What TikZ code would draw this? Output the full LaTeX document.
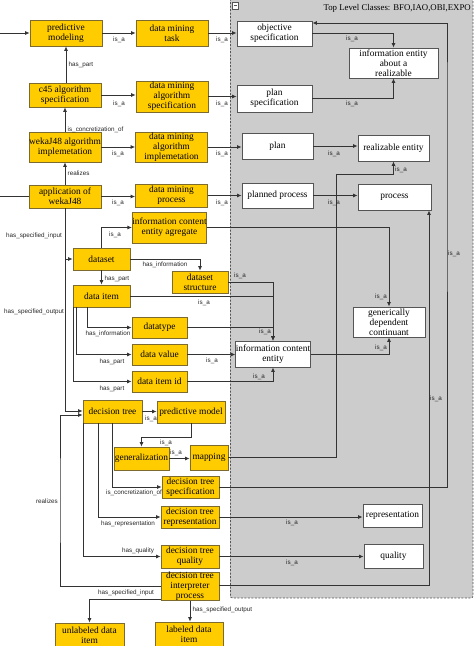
\documentclass[tikz,border=0pt]{standalone}
\usepackage{fontspec}
\setmainfont{Liberation Serif}
\newfontfamily\labfont{Liberation Sans}
\usetikzlibrary{arrows.meta}
\definecolor{gold}{HTML}{FFCC00}
\definecolor{goldline}{HTML}{7D6A2E}
\definecolor{panel}{HTML}{CCCCCC}
\definecolor{wire}{HTML}{333333}
\definecolor{boxline}{HTML}{555555}
\begin{document}
\begin{tikzpicture}[x=1pt,y=-1pt,
  ybox/.style={draw=goldline, fill=gold, line width=0.7pt, inner sep=0pt, align=center, font=\fontsize{9.4}{10}\selectfont},
  wbox/.style={draw=boxline, fill=white, line width=0.9pt, inner sep=0pt, align=center, font=\fontsize{9.4}{10}\selectfont},
  conn/.style={draw=wire, line width=0.8pt, -{Latex[length=4.5pt,width=4pt]}},
  plainline/.style={draw=wire, line width=0.8pt},
  lbl/.style={font=\labfont\fontsize{6.3}{7}\selectfont, text=black!85, inner sep=0.5pt},
  sz/.style 2 args={minimum width=#1pt, minimum height=#2pt}]
\useasboundingbox (0,0) rectangle (474,646);
\clip (0,0) rectangle (474,646);

% panel
\fill[panel] (230,-5) rectangle (473,598);
\draw[boxline, line width=0.6pt, dash pattern=on 2pt off 1.5pt, rounded corners=2pt] (230.5,-5) -- (230.5,598) -- (473,598) -- (473,-5);
\draw[boxline, fill=white, line width=0.5pt] (232,2) rectangle (238,9);
\draw[boxline, line width=0.5pt] (233.5,5.5) -- (236.5,5.5);
\node[anchor=base east, inner sep=0pt, font=\fontsize{8.8}{10}\selectfont] (title) at (471,10) {Top Level Classes: BFO,IAO,OBI,EXPO};

% yellow boxes
\node[ybox, sz={72}{26}] (pm) at (66,33) {predictive\\modeling};
\node[ybox, sz={72}{26}] (dmt) at (172,33) {data mining\\task};
\node[ybox, sz={72}{24}] (c45) at (65,95) {c45 algorithm\\specification};
\node[ybox, sz={72}{31}] (dmas) at (172,96.5) {data mining\\algorithm\\specification};
\node[ybox, sz={72}{30}] (weka) at (65,147) {wekaJ48 algorithm\\implemetation};
\node[ybox, sz={72}{30}] (dmai) at (171.5,147) {data mining\\algorithm\\implemetation};
\node[ybox, sz={72}{23}] (app) at (65,196.5) {application of\\wekaJ48};
\node[ybox, sz={72}{23}] (dmp) at (171.5,195.5) {data mining\\process};
\node[ybox, sz={73}{31}] (icea) at (169.5,227.5) {information content\\entity agregate};
\node[ybox, sz={57}{22}] (dataset) at (101.5,259) {dataset};
\node[ybox, sz={56}{22}] (dstruct) at (200,282) {dataset\\structure};
\node[ybox, sz={57}{22}] (ditem) at (101.5,296) {data item};
\node[ybox, sz={55}{21}] (dtype) at (159.5,327.5) {datatype};
\node[ybox, sz={55}{21}] (dval) at (159.5,354.5) {data value};
\node[ybox, sz={55}{21}] (did) at (159.5,381.5) {data item id};
\node[ybox, sz={59}{23}] (dt) at (112.5,411.5) {decision tree};
\node[ybox, sz={68}{22}] (pmodel) at (191,412) {predictive model};
\node[ybox, sz={55}{23}] (gen) at (141.5,458.5) {generalization};
\node[ybox, sz={38}{25}] (map) at (209,457.5) {mapping};
\node[ybox, sz={57}{22}] (dts) at (190.5,487) {decision tree\\specification};
\node[ybox, sz={58}{22}] (dtr) at (190,517) {decision tree\\representation};
\node[ybox, sz={58}{23}] (dtq) at (190,556.5) {decision tree\\quality};
\node[ybox, sz={58}{27}] (dtip) at (190,586.5) {decision tree\\interpreter\\process};
\node[ybox, sz={69}{24}] (udi) at (89.5,635) {unlabeled data\\item};
\node[ybox, sz={68}{25}] (ldi) at (189,634.5) {labeled data\\item};

% white boxes
\node[wbox, sz={75}{25}] (objs) at (274.5,33.5) {objective\\specification};
\node[wbox, sz={89}{30}] (ieaar) at (393.5,63) {information entity\\about a\\realizable};
\node[wbox, sz={75}{27}] (plans) at (274.5,98.5) {plan\\specification};
\node[wbox, sz={71}{26}] (plan) at (277.5,146) {plan};
\node[wbox, sz={71}{26}] (realent) at (393.5,148) {realizable entity};
\node[wbox, sz={71}{25}] (pproc) at (277.5,195.5) {planned process};
\node[wbox, sz={73}{26}] (proc) at (394.5,197) {process};
\node[wbox, sz={72}{30}] (gdc) at (389,322) {generically\\dependent\\continuant};
\node[wbox, sz={74}{26}] (ice) at (273,354) {information content\\entity};
\node[wbox, sz={59}{23}] (repr) at (392.5,515.5) {representation};
\node[wbox, sz={59}{24}] (qual) at (393.5,556) {quality};

% free ends
\coordinate (in1) at (0,33);
\coordinate (in2) at (0,196.5);
\draw[conn] (in1) -- (pm.west);
\draw[plainline] (in2) -- (app.west);

% top rows
\draw[conn] (pm.east) -- (pm.east -| dmt.west);
\draw[conn] (dmt.east) -- (dmt.east -| objs.west);
\draw[conn] (c45.north -| pm.south) -- (pm.south);
\draw[conn] (c45.east) -- (c45.east -| dmas.west);
\draw[conn] (dmas.east) -- (dmas.east -| plans.west);
\draw[conn] (weka.north) -- (c45.south);
\draw[conn] (weka.east) -- (weka.east -| dmai.west);
\draw[conn] (dmai.east) -- (dmai.east -| plan.west);
\draw[conn] (app.north) -- (weka.south);
\draw[conn] (app.east) -- (app.east -| dmp.west);
\draw[conn] (dmp.east) -- (dmp.east -| pproc.west);

% panel internal
\draw[conn] (objs.east) -| (ieaar.north);
\draw[conn] (plans.east) -| (ieaar.south);
\draw[conn] (plan.east) -- (plan.east -| realent.west);
\draw[conn] (pproc.east) -- (pproc.east -| proc.west);
\draw[conn] (icea.east) -| (gdc.north);
\draw[conn] (ice.east) -| (gdc.south);

% data side
\draw[conn] (app.south) |- (dataset.west);
\draw[conn] (app.south) |- ([yshift=0.5pt]dt.west);
\draw[conn] (dataset.north) |- (icea.west);
\draw[conn] (dataset.east) -| (dstruct.north);
\draw[conn] (dataset.south) -- (ditem.north);
\draw[conn] ([xshift=15pt]ditem.south west) |- (dtype.west);
\draw[conn] ([xshift=4pt]ditem.south west) |- (dval.west);
\draw[conn] ([xshift=1pt]ditem.south west) |- (did.west);
\draw[conn] (ditem.east) -| (ice.north);
\draw[conn] (dstruct.east) -| (ice.north);
\draw[conn] (dtype.east) -| (ice.north);
\draw[conn] (dval.east) -- (dval.east -| ice.west);
\draw[conn] (did.east) -| (ice.south);

% decision tree side
\draw[conn] (dt.east) -- (dt.east -| pmodel.west);
\draw[conn] (pmodel.south) -- ++(0,14) -| (gen.north);
\draw[conn] (gen.east) -- (gen.east -| map.west);
\draw[conn] (map.east) -| (336,174) -| (realent.south);
\draw[conn] ([xshift=30pt]dt.south west) |- (dts.west);
\draw[conn] ([xshift=16pt]dt.south west) |- (dtr.west);
\draw[conn] ([xshift=1pt]dt.south west) |- (dtq.west);
\draw[conn] (dts.east) -| (447,100) |- ([yshift=10.5pt]objs.east);
\draw[conn] (dtr.east) -- (dtr.east -| repr.west);
\draw[conn] (dtq.east) -- (dtq.east -| qual.west);
\draw[conn] ([yshift=1.5pt]dtip.east) -| ([xshift=34.5pt]proc.south);
\draw[conn] (dtip.west) -| (60,500) |- ([yshift=-3.5pt]dt.west);
\draw[conn] ([yshift=2pt]dtip.south west) -| (udi.north);
\draw[conn] (dtip.south) -- (dtip.south |- ldi.north);

% labels
\node[lbl] at (119,40) {is\_a};
\node[lbl] at (222,40) {is\_a};
\node[lbl, anchor=west] at (68,65) {has\_part};
\node[lbl] at (119,104) {is\_a};
\node[lbl] at (222,104) {is\_a};
\node[lbl, anchor=west] at (67,130) {is\_concretization\_of};
\node[lbl] at (118,154) {is\_a};
\node[lbl] at (222,154) {is\_a};
\node[lbl, anchor=west] at (67,173) {realizes};
\node[lbl] at (118,203) {is\_a};
\node[lbl] at (222,203) {is\_a};
\node[lbl] at (352,39) {is\_a};
\node[lbl] at (352,104) {is\_a};
\node[lbl] at (334,154) {is\_a};
\node[lbl] at (334,203) {is\_a};
\node[lbl] at (401,170) {is\_a};
\node[lbl] at (454,254) {is\_a};
\node[lbl] at (34,236) {has\_specified\_input};
\node[lbl] at (34,312) {has\_specified\_output};
\node[lbl] at (115,235) {is\_a};
\node[lbl] at (165,265) {has\_information};
\node[lbl, anchor=west] at (104,279) {has\_part};
\node[lbl] at (240,276) {is\_a};
\node[lbl] at (204,303) {is\_a};
\node[lbl] at (108,334) {has\_information};
\node[lbl] at (265,332) {is\_a};
\node[lbl] at (381,297) {is\_a};
\node[lbl] at (381,348) {is\_a};
\node[lbl] at (112,362) {has\_part};
\node[lbl] at (212,361) {is\_a};
\node[lbl] at (112,389) {has\_part};
\node[lbl] at (259,377) {is\_a};
\node[lbl] at (436,399) {is\_a};
\node[lbl] at (151,419) {is\_a};
\node[lbl] at (166,443) {is\_a};
\node[lbl] at (176,453) {is\_a};
\node[lbl] at (134,493) {is\_concretization\_of};
\node[lbl] at (47,501) {realizes};
\node[lbl] at (128,524) {has\_representation};
\node[lbl] at (292,523) {is\_a};
\node[lbl] at (138,551) {has\_quality};
\node[lbl] at (292,563) {is\_a};
\node[lbl] at (126,593) {has\_specified\_input};
\node[lbl, anchor=west] at (192,610) {has\_specified\_output};
\end{tikzpicture}
\end{document}
